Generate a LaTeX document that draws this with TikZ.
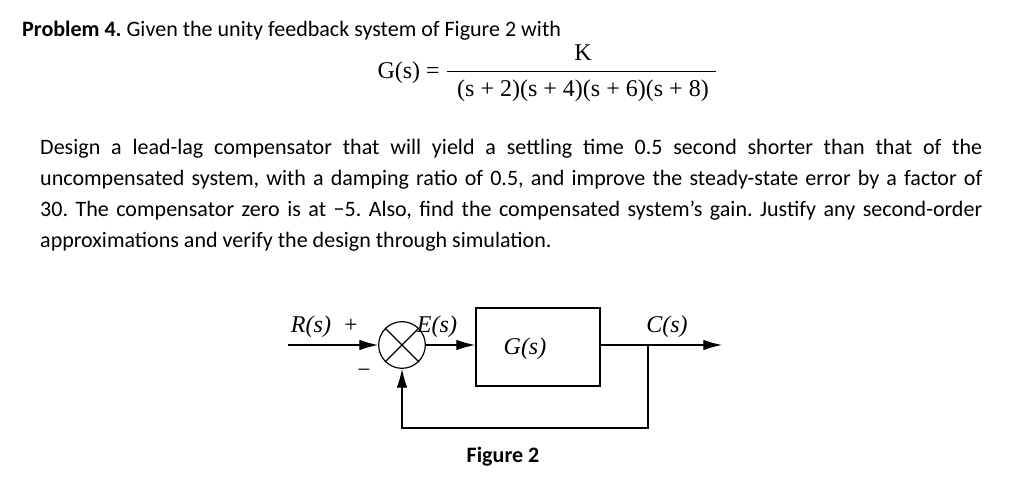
\documentclass[tikz,border=0pt]{standalone}
\usepackage{fontspec}
\setmainfont{Carlito}
\newfontfamily\eqf{Liberation Serif}
\newfontfamily\blk{Liberation Serif}
\usetikzlibrary{arrows.meta}
\begin{document}
\frenchspacing
\begin{tikzpicture}[x=0.03cm,y=-0.03cm,
  txt/.style={inner sep=0pt,font=\fontsize{18.8}{22}\selectfont},
  eq/.style={inner sep=0pt,font=\eqf\fontsize{20.5}{24}\selectfont},
  lbl/.style={inner sep=0pt,font=\blk\itshape\fontsize{20.5}{24}\selectfont},
  sig/.style={line width=1pt,-{Latex[length=16pt,width=9pt]}},
  wire/.style={line width=1pt}]
\useasboundingbox (0,0) rectangle (1024,489);
% heading
\node[txt,anchor=west] (head) at (22,31) {\textbf{Problem 4.} Given the unity feedback system of Figure 2 with};
\node[eq,anchor=east] (geq) at (440,73) {G(s) =};
\node[eq] (num) at (583,53) {K};
\node[eq] (den) at (583,91) {(s + 2)(s + 4)(s + 6)(s + 8)};
\draw[line width=0.6pt] (447,71) -- (716,71);
% paragraph
\newlength\W \setlength\W{28.26cm}
\node[txt,anchor=west] (p1) at (40,149) {\hbox to\W{Design a lead-lag compensator that will yield a settling time 0.5 second shorter than that of the}};
\node[txt,anchor=west] (p2) at (40,180) {\hbox to\W{uncompensated system, with a damping ratio of 0.5, and improve the steady-state error by a factor of}};
\node[txt,anchor=west] (p3) at (40,211) {\hbox to\W{30. The compensator zero is at −5. Also, find the compensated system’s gain. Justify any second-order}};
\node[txt,anchor=west] (p4) at (40,242) {approximations and verify the design through simulation.};
% block diagram
\coordinate (in) at (288,345);
\node[circle,draw,line width=1pt,inner sep=0pt,minimum size=1.4cm] (sum) at (402,345) {};
\draw[line width=1pt] (sum.45) -- (sum.225) (sum.135) -- (sum.315);
\node[draw,line width=1.6pt,minimum width=3.72cm,minimum height=2.34cm] (G) at (538,347) {};
\node[lbl] (gl) at (525,349) {G(s)};
\coordinate (br) at (648,345);
\coordinate (out) at (722,345);
\coordinate (c1) at (648,428);
\coordinate (c2) at (402,428);
\draw[sig] (in) -- (sum.west);
\draw[sig] (sum.east) -- (G.west |- sum.east);
\draw[wire] (G.east |- br) -- (br);
\draw[sig] (br) -- (out);
\draw[sig] (br) -- (c1) -- (c2) -- (sum.south);
\node[lbl] (rl) at (311,327) {R(s)};
\node[lbl,font=\blk\fontsize{20}{24}\selectfont] (pl) at (351,326) {+};
\node[lbl] (el) at (437,327) {E(s)};
\node[lbl] (cl) at (667,327) {C(s)};
\node[lbl,font=\blk\fontsize{20}{24}\selectfont] (ml) at (364,373) {−};
\node[txt] (fig) at (503,457) {\textbf{Figure 2}};
\end{tikzpicture}
\end{document}
